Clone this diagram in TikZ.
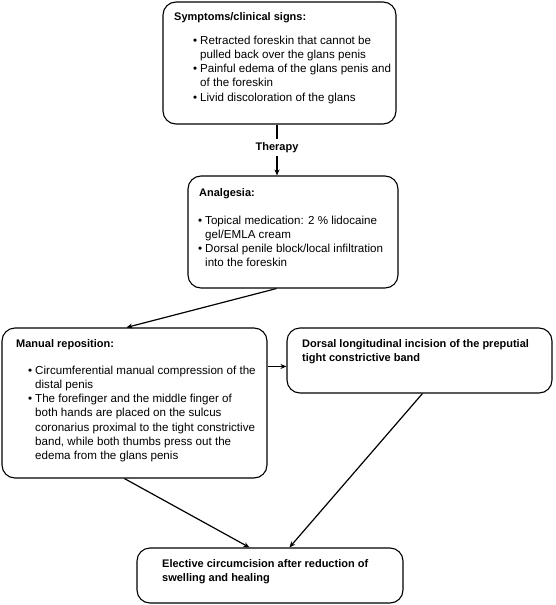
\documentclass[tikz,border=0pt]{standalone}
\usepackage{fontspec}
\setmainfont{Liberation Sans}
\usetikzlibrary{calc,arrows.meta}
\newcommand{\bitem}[1]{\par\noindent\hangindent=7pt\hangafter=1\makebox[7pt][l]{\textbullet}#1\par}
\newcommand{\blist}[1]{\parbox[t]{320pt}{\fontsize{11.6}{14.3}\selectfont #1}}
\begin{document}
\begin{tikzpicture}[x=1pt,y=-1pt,
  box/.style={draw, line width=1.1pt, rounded corners=13pt, minimum width=#1, inner sep=0pt},
  txt/.style={anchor=base west, inner sep=0pt},
  ttl/.style={txt, font=\fontsize{11}{14.3}\selectfont\bfseries},
  conn/.style={line width=1.2pt},
  arr/.style={conn, -{Stealth[length=6pt,width=5pt]}}]
\useasboundingbox (0,0) rectangle (555,605);
% boxes
\node[box=233pt, minimum height=122pt] (b1) at (279.5,63) {};
\node[box=210pt, minimum height=112pt] (b2) at (293,232) {};
\node[box=265pt, minimum height=150pt] (b3) at (134.5,403) {};
\node[box=265pt, minimum height=65pt] (b4) at (419.5,360.5) {};
\node[box=266pt, minimum height=55pt] (b5) at (270,575.5) {};
% texts
\node[ttl] (t1) at (174,20) {Symptoms/clinical signs:};
\node[txt] (l1) at (193,44) {\blist{\bitem{Retracted foreskin that cannot be\newline pulled back over the glans penis}\bitem{Painful edema of the glans penis and\newline of the foreskin}\bitem{Livid discoloration of the glans}}};
\node[ttl] (t2) at (199,196) {Analgesia:};
\node[txt] (l2) at (198,224) {\blist{\bitem{Topical medication: 2 \% lidocaine\newline gel/EMLA cream}\bitem{Dorsal penile block/local infiltration\newline into the foreskin}}};
\node[ttl] (t3) at (16,347) {Manual reposition:};
\node[txt] (l3) at (28,374) {\blist{\bitem{Circumferential manual compression of the\newline distal penis}\bitem{The forefinger and the middle finger of\newline both hands are placed on the sulcus\newline coronarius proximal to the tight constrictive\newline band, while both thumbs press out the\newline edema from the glans penis}}};
\node[txt] (t4) at (302,347) {\parbox[t]{300pt}{\fontsize{11}{14.5}\selectfont\bfseries Dorsal longitudinal incision of the preputial\newline tight constrictive band}};
\node[txt] (t5) at (162,567) {\parbox[t]{300pt}{\fontsize{11}{14.5}\selectfont\bfseries Elective circumcision after reduction of\newline swelling and healing}};
% therapy
\node[font=\fontsize{11}{12}\selectfont\bfseries, inner xsep=0pt, inner ysep=3pt] (th) at (277,147.5) {Therapy};
% connectors
\draw[conn] (b1.south -| th) -- (th.north);
\draw[arr] (th.south) -- (b2.north -| th);
\draw[arr] ($(b2.south west)+(89,0)$) -- ($(b3.north west)+(125,0)$);
\draw[arr] ($(b3.north east)+(0,39)$) -- ($(b4.north west)+(0,39)$);
\draw[arr] ($(b3.south west)+(123,0)$) -- ($(b5.north west)+(113,0)$);
\draw[arr] ($(b4.south west)+(136,0)$) -- ($(b5.north west)+(153,0)$);
\end{tikzpicture}
\end{document}
